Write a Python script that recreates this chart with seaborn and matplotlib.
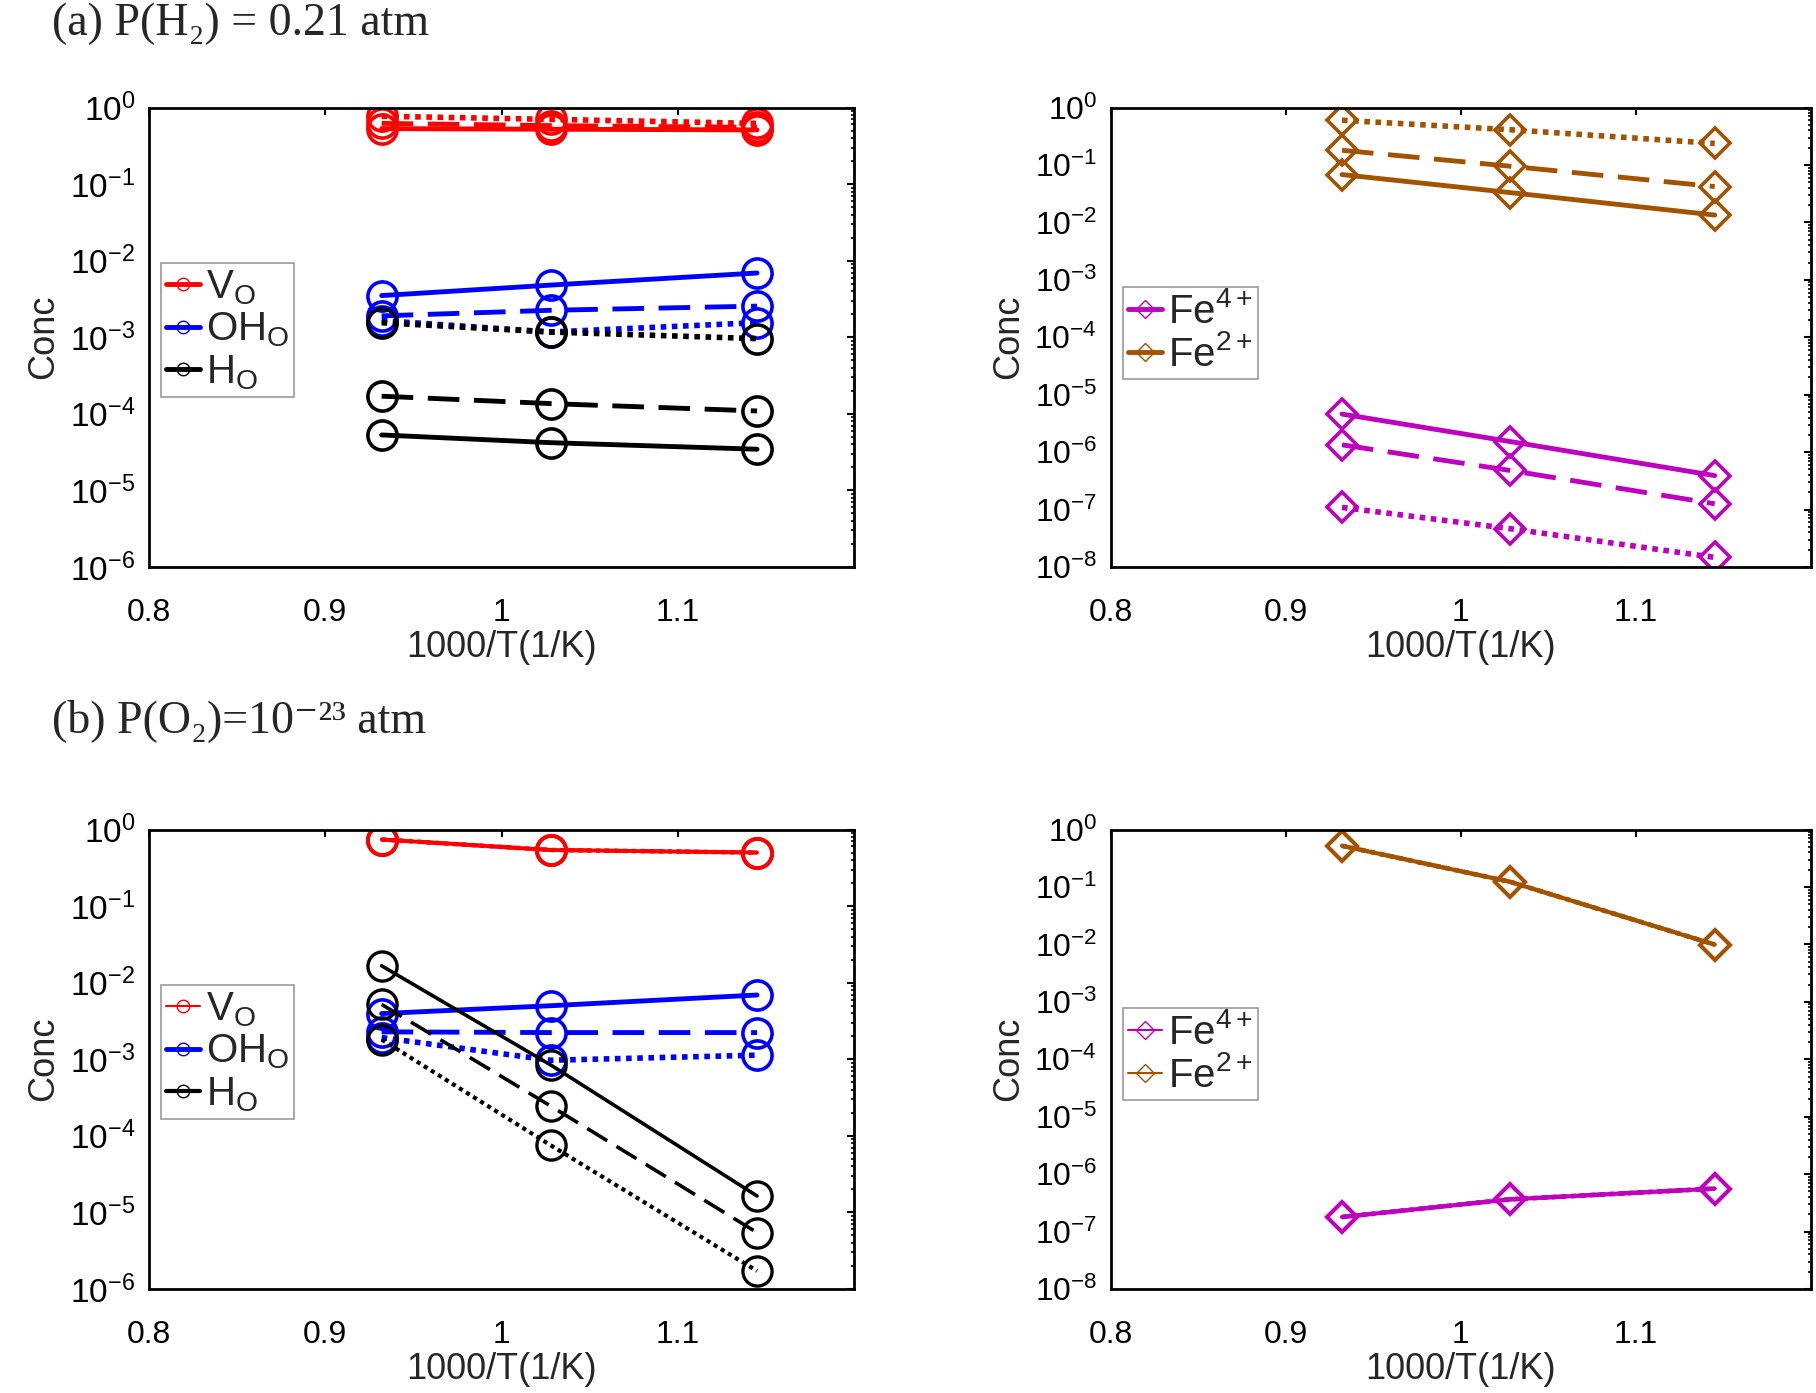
import matplotlib
matplotlib.use('Agg')
import matplotlib.pyplot as plt
from matplotlib.lines import Line2D
from matplotlib.ticker import LogLocator, LogFormatterMathtext, NullFormatter, FixedLocator
import numpy as np
import pandas as pd
import seaborn as sns

# x values: 1000/T for 800, 700, 600 C
inv_T = [0.932, 1.028, 1.145]

# (a) P(H2) = 0.21 atm  -- solid / dashed / dotted series
a_VO_solid = [0.53, 0.52, 0.51]
a_VO_dashed = [0.62, 0.58, 0.55]
a_VO_dotted = [0.77, 0.70, 0.62]
a_OH_solid = [3.5e-3, 4.8e-3, 6.9e-3]
a_OH_dashed = [1.9e-3, 2.25e-3, 2.55e-3]
a_OH_dotted = [1.65e-3, 1.17e-3, 1.55e-3]
a_H_solid = [5.3e-5, 4.2e-5, 3.45e-5]
a_H_dashed = [1.7e-4, 1.36e-4, 1.09e-4]
a_H_dotted = [1.55e-3, 1.17e-3, 9.6e-4]

a_Fe2_solid = [0.068, 0.033, 0.0134]
a_Fe2_dashed = [0.18, 0.095, 0.042]
a_Fe2_dotted = [0.60, 0.41, 0.237]
a_Fe4_solid = [4.6e-6, 1.53e-6, 3.9e-7]
a_Fe4_dashed = [1.34e-6, 4.8e-7, 1.26e-7]
a_Fe4_dotted = [1.09e-7, 4.65e-8, 1.47e-8]

# (b) P(O2) = 1e-23 atm
b_VO = [0.74, 0.54, 0.50]
b_OH_solid = [3.95e-3, 5.0e-3, 6.9e-3]
b_OH_dashed = [2.28e-3, 2.23e-3, 2.23e-3]
b_OH_dotted = [1.92e-3, 9.7e-4, 1.13e-3]
b_H_solid = [1.66e-2, 8.4e-4, 1.64e-5]
b_H_dashed = [5.2e-3, 2.44e-4, 5.45e-6]
b_H_dotted = [1.81e-3, 7.5e-5, 1.72e-6]
b_Fe2 = [0.52, 0.123, 0.0099]
b_Fe4 = [1.79e-7, 3.64e-7, 5.6e-7]

x_ticks = [0.8, 0.9, 1.0, 1.1]
x_tick_labels = ['0.8', '0.9', '1', '1.1']

RED, BLUE, BLACK = '#ff0000', '#0000ff', '#000000'
MAG, BROWN = '#bf00bf', '#a35200'
SOLID, DASHED, DOTTED = '-', (0, (6.5, 3)), (0, (1, 1))

sns.set_style('white')
plt.rcParams['font.family'] = ['Liberation Sans', 'DejaVu Sans']
plt.rcParams['mathtext.fontset'] = 'custom'
plt.rcParams['mathtext.rm'] = 'Liberation Sans'
plt.rcParams['mathtext.it'] = 'Liberation Sans:italic'
plt.rcParams['mathtext.bf'] = 'Liberation Sans:bold'


def draw(ax, y, color, ls, marker, lw=3.5, ms=21, mew=2.6):
    df = pd.DataFrame({'x': inv_T, 'y': y})
    if ls == DOTTED:
        lw = lw * 1.15
    sns.lineplot(data=df, x='x', y='y', ax=ax, color=color, linestyle=ls,
                 linewidth=lw, marker=marker, markersize=ms,
                 markerfacecolor='none', markeredgecolor=color,
                 markeredgewidth=mew, legend=False, sort=False)


def style_axes(ax, ymin, ylab_size=24):
    ax.set_yscale('log')
    ax.set_xlim(0.8, 1.2)
    ax.set_ylim(ymin, 1)
    ax.xaxis.set_major_locator(FixedLocator(x_ticks))
    ax.set_xticklabels(x_tick_labels)
    ax.yaxis.set_major_locator(LogLocator(base=10, numticks=20))
    ax.yaxis.set_major_formatter(LogFormatterMathtext())
    ax.yaxis.set_minor_locator(LogLocator(base=10, subs=np.arange(2, 10), numticks=20))
    ax.yaxis.set_minor_formatter(NullFormatter())
    ax.tick_params(axis='both', which='both', direction='in', top=True, right=True,
                   colors='black', width=1.5)
    ax.tick_params(axis='both', which='major', length=5)
    ax.tick_params(axis='y', which='minor', length=2.5, width=1.2)
    ax.tick_params(axis='x', which='major', labelsize=23, pad=22)
    ax.tick_params(axis='y', which='major', labelsize=ylab_size, pad=10)
    for s in ax.spines.values():
        s.set_visible(True)
        s.set_color('black')
        s.set_linewidth(2)
    ax.set_xlabel('1000/T(1/K)', fontsize=26, labelpad=2)
    ax.set_ylabel('Conc', fontsize=26, labelpad=6)


def add_legend(ax, labels, colors, lws, marker, top):
    handles = [Line2D([], [], color=c, lw=w, marker=marker, markersize=9,
                      markerfacecolor='none', markeredgewidth=1.0)
               for c, w in zip(colors, lws)]
    leg = ax.legend(handles, labels, loc='upper left', bbox_to_anchor=(0.017, top),
                    borderaxespad=0, fontsize=29, handlelength=0.85,
                    handletextpad=0.15, borderpad=0.12, labelspacing=0.1,
                    fancybox=False, framealpha=1, edgecolor='#999999')
    leg.get_frame().set_linewidth(1.2)


fig = plt.figure(figsize=(18.16, 13.93), dpi=100)
W, H = 1816, 1393
ax_tl = fig.add_axes([149 / W, 1 - 567 / H, 705 / W, 459.5 / H])
ax_tr = fig.add_axes([1111 / W, 1 - 567 / H, 700 / W, 459.5 / H])
ax_bl = fig.add_axes([149 / W, 1 - 1289 / H, 705 / W, 459.5 / H])
ax_br = fig.add_axes([1111 / W, 1 - 1289 / H, 700 / W, 459.5 / H])

# (a) left
for y, ls in [(a_VO_solid, SOLID), (a_VO_dashed, DASHED), (a_VO_dotted, DOTTED)]:
    draw(ax_tl, y, RED, ls, 'o')
for y, ls in [(a_OH_solid, SOLID), (a_OH_dashed, DASHED), (a_OH_dotted, DOTTED)]:
    draw(ax_tl, y, BLUE, ls, 'o')
for y, ls in [(a_H_solid, SOLID), (a_H_dashed, DASHED), (a_H_dotted, DOTTED)]:
    draw(ax_tl, y, BLACK, ls, 'o')
style_axes(ax_tl, 1e-6)
add_legend(ax_tl, [r'$\mathregular{V_O}$', r'$\mathregular{OH_O}$', r'$\mathregular{H_O}$'],
           [RED, BLUE, BLACK], [3.5, 3.5, 3.5], 'o', 0.661)

# (a) right
for y, ls in [(a_Fe4_solid, SOLID), (a_Fe4_dashed, DASHED), (a_Fe4_dotted, DOTTED)]:
    draw(ax_tr, y, MAG, ls, 'D', ms=15)
for y, ls in [(a_Fe2_solid, SOLID), (a_Fe2_dashed, DASHED), (a_Fe2_dotted, DOTTED)]:
    draw(ax_tr, y, BROWN, ls, 'D', ms=15)
style_axes(ax_tr, 1e-8, ylab_size=23)
add_legend(ax_tr, [r'$\mathregular{Fe^{4+}}$', r'$\mathregular{Fe^{2+}}$'],
           [MAG, BROWN], [3.5, 3.5], 'D', 0.609)

# (b) left
for ls in [SOLID, DASHED, DOTTED]:
    draw(ax_bl, b_VO, RED, ls, 'o', lw=2.8)
for y, ls in [(b_OH_solid, SOLID), (b_OH_dashed, DASHED), (b_OH_dotted, DOTTED)]:
    draw(ax_bl, y, BLUE, ls, 'o')
for y, ls in [(b_H_solid, SOLID), (b_H_dashed, DASHED), (b_H_dotted, DOTTED)]:
    draw(ax_bl, y, BLACK, ls, 'o', lw=2.6, mew=2.4)
style_axes(ax_bl, 1e-6)
add_legend(ax_bl, [r'$\mathregular{V_O}$', r'$\mathregular{OH_O}$', r'$\mathregular{H_O}$'],
           [RED, BLUE, BLACK], [1.5, 3.5, 3.0], 'o', 0.661)

# (b) right
for ls in [SOLID, DASHED, DOTTED]:
    draw(ax_br, b_Fe4, MAG, ls, 'D', lw=3.0, ms=15)
for ls in [SOLID, DASHED, DOTTED]:
    draw(ax_br, b_Fe2, BROWN, ls, 'D', lw=3.0, ms=15)
style_axes(ax_br, 1e-8, ylab_size=23)
add_legend(ax_br, [r'$\mathregular{Fe^{4+}}$', r'$\mathregular{Fe^{2+}}$'],
           [MAG, BROWN], [1.5, 1.5], 'D', 0.611)

serif = ['Liberation Serif', 'DejaVu Serif']
fig.text(52 / W, 1 - 24 / H, '(a) P(H\u2082) = 0.21 atm', family=serif,
         fontsize=33, va='center', ha='left')
fig.text(52 / W, 1 - 721 / H, '(b) P(O\u2082)=10\u207b\u00b2\u00b3 atm', family=serif,
         fontsize=33, va='center', ha='left')

fig.savefig('out.png', dpi=100, facecolor='white')
